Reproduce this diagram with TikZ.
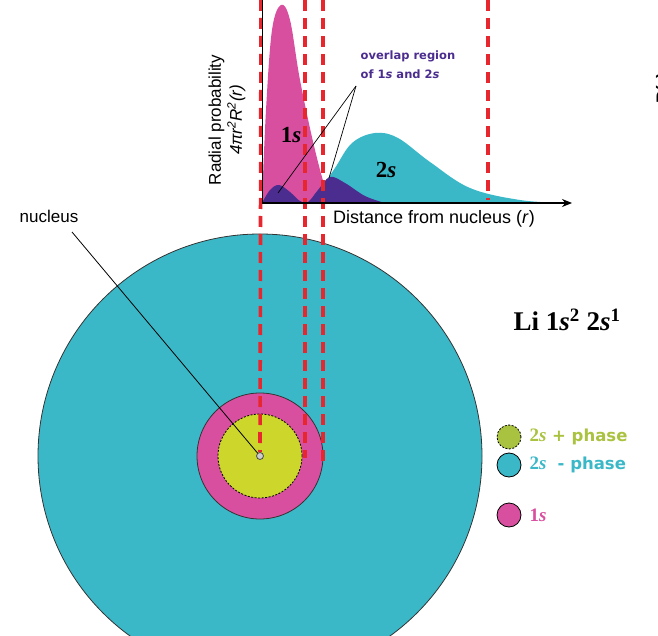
\documentclass[tikz,border=0pt]{standalone}
\usepackage{fontspec}
\setmainfont{Liberation Serif}
\setsansfont{Liberation Sans}
\newfontfamily\verd{DejaVu Sans}
\usetikzlibrary{arrows.meta}
\definecolor{pk}{HTML}{D94FA0}
\definecolor{cy}{HTML}{3BB8C8}
\definecolor{yl}{HTML}{CCD62B}
\definecolor{pu}{HTML}{4B2D8F}
\definecolor{rd}{HTML}{E8262D}
\definecolor{gr}{HTML}{A9C23F}
\tikzset{redline/.style={rd,line width=3.6pt,dash pattern=on 11pt off 7pt},
 leg/.style={circle,draw=black,line width=0.8pt,minimum size=24pt,inner sep=0pt},
 legtxt/.style={anchor=west,font=\verd\bfseries\fontsize{16.5}{18}\selectfont}}
\begin{document}
\begin{tikzpicture}[x=1pt,y=-1pt]
\useasboundingbox (0,0) rectangle (658,636);
\clip (0,0) rectangle (658,636);
% big circles
\node[circle,fill=cy,draw=black!80,line width=0.8pt,minimum size=444pt,inner sep=0pt] (big) at (260,456) {};
\node[circle,fill=pk,draw=black!80,line width=0.8pt,minimum size=126pt,inner sep=0pt] (p1) at (260,456) {};
\node[circle,fill=yl,draw=black,line width=0.8pt,dash pattern=on 2pt off 1.5pt,minimum size=84pt,inner sep=0pt] (y1) at (260,456) {};
% plot curves
\fill[pk] plot[smooth,tension=0.6] coordinates {(262,203)(266,110)(272,30)(281,5)(290,20)(300,80)(315,150)(328,195)(338,203)} -- cycle;
\fill[cy] plot[smooth,tension=0.6] coordinates {(310,203)(320,190)(335,168)(352,143)(375,133)(398,138)(430,162)(470,188)(520,200)(565,203)} -- cycle;
\fill[pu] plot[smooth,tension=0.6] coordinates {(262,203)(270,190)(279,185)(290,192)(300,201)(308,202)(318,190)(330,177)(345,183)(365,196)(385,203)} -- cycle;
% red dashed lines
\coordinate (t1) at (261,0); \coordinate (t2) at (305,0); \coordinate (t3) at (323,0); \coordinate (t4) at (488,0);
\coordinate (b2) at (305,458); \coordinate (b3) at (323,462); \coordinate (b4) at (488,200);
\node[circle,fill=gray!40,draw=black!70,line width=0.8pt,minimum size=7pt,inner sep=0pt] (nuc) at (260,456) {};
\draw[redline] (t1) -- (nuc.north);
\draw[redline] (t2) -- (b2);
\draw[redline] (t3) -- (b3);
\draw[redline] (t4) -- (b4);
% axes
\coordinate (o) at (262,203); \coordinate (yt) at (262,0); \coordinate (xe) at (572,203);
\draw[line width=1pt] (yt) -- (o);
\draw[line width=1.2pt,-{Stealth[length=10pt,width=8pt]}] (o) -- (xe);
% labels
\node[rotate=90,font=\sffamily\fontsize{17}{21}\selectfont,align=center] (ylab) at (227,120) {Radial probability\\ \textit{4πr\textsuperscript{2}R\textsuperscript{2}(r)}};
\node[font=\bfseries\fontsize{23}{24}\selectfont] (l1s) at (291,135) {1\textit{s}};
\node[font=\bfseries\fontsize{23}{24}\selectfont] (l2s) at (386,170) {2\textit{s}};
\node[font=\sffamily\fontsize{18}{20}\selectfont] (xl) at (434,219) {Distance from nucleus (\textit{r})};
\node[font=\verd\bfseries\fontsize{11.5}{19}\selectfont,text=pu,align=left] (ov) at (408,65) {overlap region\\of 1\textit{s} and 2\textit{s}};
\coordinate (ov1) at (278,193); \coordinate (ov2) at (329,178); \coordinate (ovs) at (356,86);
\draw[line width=0.7pt] (ovs) -- (ov1); \draw[line width=0.7pt] (ovs) -- (ov2);
\node[font=\sffamily\fontsize{17}{19}\selectfont] (nl) at (49,216) {nucleus};
\coordinate (ns) at (72,232);
\draw[line width=0.8pt] (ns) -- (nuc);
\node[font=\bfseries\fontsize{27}{28}\selectfont] (li) at (567,320) {Li 1\textit{s}\textsuperscript{2} 2\textit{s}\textsuperscript{1}};
\node[rotate=90,font=\sffamily\bfseries\fontsize{17}{19}\selectfont] (rr) at (664,88) {R(\textit{r})};
% legend
\node[leg,fill=gr,dash pattern=on 2pt off 1.5pt] (c1) at (509,437) {};
\node[leg,fill=cy] (c2) at (509,465) {};
\node[leg,fill=pk] (c3) at (509,515) {};
\node[legtxt,text=gr] at (526,437) {{\rmfamily\fontsize{19}{20}\selectfont 2\textit{s}} + phase};
\node[legtxt,text=cy] at (526,465) {{\rmfamily\fontsize{19}{20}\selectfont 2\textit{s}}\,\, - phase};
\node[legtxt,text=pk] at (526,515) {{\rmfamily\fontsize{19}{20}\selectfont 1\textit{s}}};
\end{tikzpicture}
\end{document}
